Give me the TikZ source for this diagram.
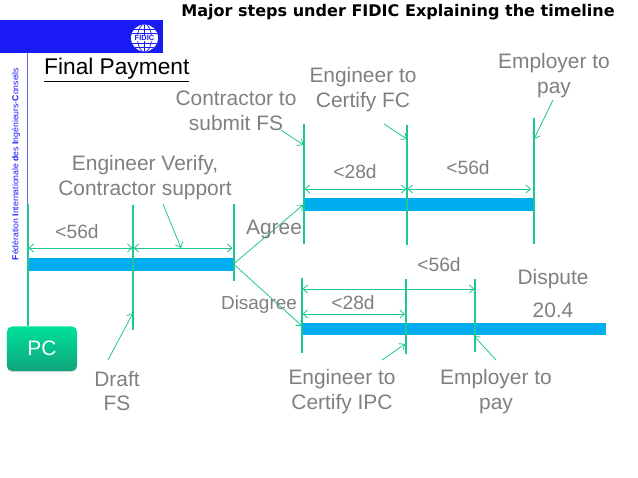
\documentclass[tikz,border=0pt]{standalone}
\usepackage{fontspec}
\setmainfont{Liberation Sans}
\newfontfamily\titlefont{DejaVu Sans}
\usetikzlibrary{arrows.meta,shadows}
\definecolor{tgreen}{HTML}{1EC595}
\definecolor{tbar}{HTML}{00ADEF}
\definecolor{tgrey}{HTML}{7F7F7F}
\definecolor{thead}{HTML}{1A1AF5}
\definecolor{tline}{HTML}{6A6AE8}
\definecolor{pctop}{HTML}{00E09A}
\definecolor{pcbot}{HTML}{0FA57C}
\tikzset{
  x=1bp,y=-1bp,
  lbl/.style={text=tgrey,font=\fontsize{21}{25}\selectfont,align=center,inner sep=0pt},
  smalllbl/.style={text=tgrey,font=\fontsize{19.3}{22}\selectfont,align=center,inner sep=0pt},
  vtick/.style={draw=tgreen,line width=1.7bp},
  bar/.style={fill=tbar,draw=none},
  thinarrow/.style={draw=tgreen,line width=0.8bp,-{Straight Barb[length=4.5bp,width=8bp]}},
  dimarrow/.style={draw=tgreen,line width=0.8bp,{Straight Barb[length=4.5bp,width=8bp]}-{Straight Barb[length=4.5bp,width=8bp]}},
}
\begin{document}
\begin{tikzpicture}
\useasboundingbox (0,0) rectangle (638,478);
% header
\fill[thead] (0,20.5) rectangle (163,53);
\draw[tline,line width=1bp] (27,53) -- (27,204);
\node[inner sep=0pt,anchor=center] (title) at (398,12) {\titlefont\bfseries\fontsize{16.1}{18}\selectfont Major steps under FIDIC Explaining the timeline};
\node[rotate=90,inner sep=0pt,text=thead,font=\fontsize{8.7}{10}\selectfont] (side) at (16,164) {\textbf{F}édération \textbf{I}nternationale \textbf{d}es \textbf{I}ngénieurs-\textbf{C}onseils};
% logo
\node[circle,fill=white,minimum size=27bp,inner sep=0pt] (logo) at (144.5,38) {};
\begin{scope}
\clip (logo.center) circle (13.5);
\foreach \yy in {-9,-5,5,9}
  \draw[thead,line width=0.7bp] (130,38+\yy) -- (159,38+\yy);
\draw[thead,line width=0.7bp] (144.5,24) -- (144.5,52);
\draw[thead,line width=0.7bp] (144.5,38) ellipse (7 and 14);
\end{scope}
\node[inner sep=0.5pt,fill=white,text=thead,font=\bfseries\fontsize{7.5}{8}\selectfont] (logotext) at (144.5,38) {FIDIC};
% bars
\fill[bar] (27,258) rectangle (233.5,270.5);
\fill[bar] (304,198.5) rectangle (533.5,211);
\fill[bar] (302,323) rectangle (606,335);
% PC
\node[rounded corners=5bp,minimum width=70bp,minimum height=44.5bp,inner sep=0pt,top color=pctop,bottom color=pcbot,
  drop shadow={shadow xshift=0bp,shadow yshift=-1bp,opacity=0.35},text=white,font=\fontsize{21}{25}\selectfont] (pc) at (42,348.7) {PC};
% vertical ticks
\coordinate (a1) at (28,204); \coordinate (a2) at (pc.north -| a1);
\coordinate (b1) at (133,205);  \coordinate (b2) at (133,330);
\coordinate (c1) at (234,204);\coordinate (c2) at (234,281);
\coordinate (d1) at (304,124);\coordinate (d2) at (304,244);
\coordinate (e1) at (407,125);  \coordinate (e2) at (407,245);
\coordinate (f1) at (534,118);\coordinate (f2) at (534,244);
\coordinate (g1) at (302,278);  \coordinate (g2) at (302,353);
\coordinate (h1) at (406,279);\coordinate (h2) at (406,354);
\coordinate (i1) at (475,279);  \coordinate (i2) at (475,352);
\foreach \tk in {a,b,c,d,e,f,g,h,i}
  \draw[vtick] (\tk1) -- (\tk2);
% branch
\coordinate (fork) at (233.5,264);
\coordinate (agreeend) at (303,205);
\coordinate (disend) at (302,326);
\draw[thinarrow] (fork) -- (agreeend);
\draw[thinarrow] (fork) -- (disend);
% dimension arrows
\coordinate (da1) at (28.5,248); \coordinate (da2) at (132.5,248);
\coordinate (da3) at (133.5,248); \coordinate (da4) at (232.5,248);
\coordinate (db1) at (304.5,189); \coordinate (db2) at (406.5,189);
\coordinate (db3) at (407.5,189); \coordinate (db4) at (531,189);
\coordinate (dc1) at (302.5,289); \coordinate (dc2) at (474.5,289);
\coordinate (dd1) at (302.5,314); \coordinate (dd2) at (405,314);
\draw[dimarrow] (da1) -- (da2);
\draw[dimarrow] (da3) -- (da4);
\draw[dimarrow] (db1) -- (db2);
\draw[dimarrow] (db3) -- (db4);
\draw[dimarrow] (dc1) -- (dc2);
\draw[dimarrow] (dd1) -- (dd2);
% labels
\node[inner sep=0pt,font=\fontsize{22.8}{26}\selectfont,text=black,anchor=base west] (final) at (44,75) {\underline{Final Payment}};
\node[lbl] (verify) at (145,177.5) {Engineer Verify,\\Contractor support};
\node[lbl] (submit) at (236,110.5) {Contractor to\\submit FS};
\node[lbl] (certfc) at (363,90) {Engineer to\\Certify FC};
\node[lbl] (emp1) at (554,76) {Employer to\\pay};
\node[smalllbl] (d56a) at (77,232) {<56d};
\node[smalllbl] (d28b) at (355,172) {<28d};
\node[smalllbl] (d56b) at (468,168) {<56d};
\node[lbl] (agree) at (274,229) {Agree};
\node[smalllbl,font=\fontsize{19}{22}\selectfont] (disagree) at (259,305) {Disagree};
\node[smalllbl] (d28c) at (353,303) {<28d};
\node[smalllbl] (d56c) at (439,265) {<56d};
\node[lbl] (dispute) at (553,279) {Dispute};
\node[lbl] (sub) at (553,310) {20.4};
\node[lbl] (draft) at (117,391) {Draft\\FS};
\node[lbl] (certipc) at (342,391.5) {Engineer to\\Certify IPC};
\node[lbl] (emp2) at (496,391.5) {Employer to\\pay};
% pointers
\coordinate (p1a) at (163,204); \coordinate (p1b) at (181,248);
\coordinate (p2a) at (281,130); \coordinate (p2b) at (303.5,145);
\coordinate (p3a) at (384,124); \coordinate (p3b) at (407,139);
\coordinate (p4a) at (553,100); \coordinate (p4b) at (534,139);
\coordinate (p5a) at (108,360); \coordinate (p5b) at (133,313);
\coordinate (p6a) at (382,360); \coordinate (p6b) at (405,344);
\coordinate (p7a) at (496,360); \coordinate (p7b) at (474,336);
\foreach \p in {1,...,7}
  \draw[thinarrow] (p\p a) -- (p\p b);
\end{tikzpicture}
\end{document}
